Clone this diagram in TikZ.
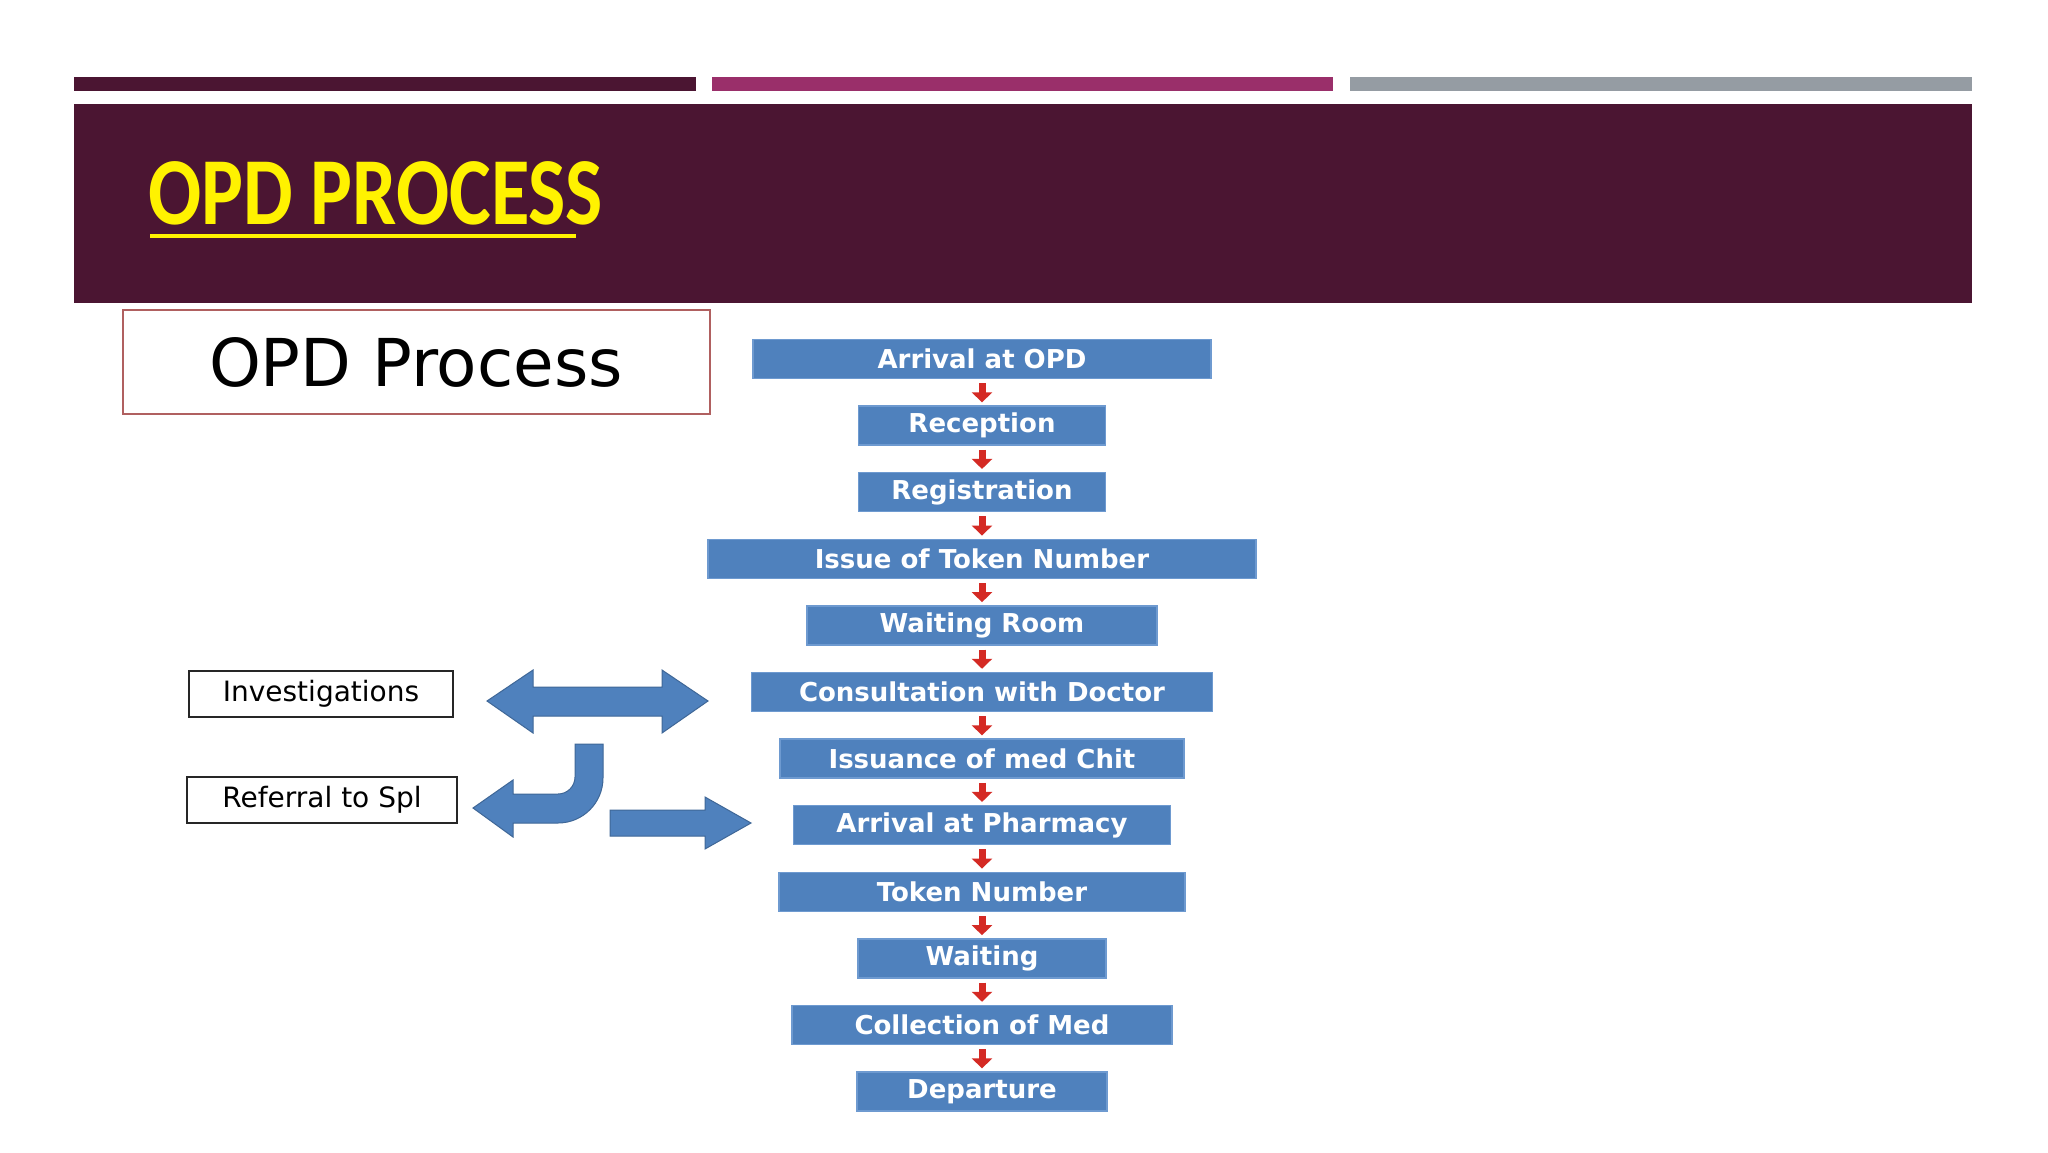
\documentclass[tikz,border=0pt]{standalone}
\usepackage{fontspec}
\setmainfont{DejaVu Sans}
\newfontfamily\titlefont{Carlito}
\usetikzlibrary{arrows.meta}
\definecolor{plum}{HTML}{4B1532}
\definecolor{magbar}{HTML}{9A2F6A}
\definecolor{greybar}{HTML}{959CA3}
\definecolor{flowblue}{HTML}{4F81BD}
\definecolor{flowedge}{HTML}{6E9AD0}
\definecolor{arrred}{HTML}{D42A24}
\definecolor{boxred}{HTML}{B06060}
\begin{document}
\begin{tikzpicture}[x=1pt,y=-1pt,
  flow/.style={fill=flowblue,draw=flowedge,line width=1.5pt,text=white,inner sep=0pt,minimum height=39pt,font=\fontsize{26}{28}\selectfont\bfseries},
  sidebox/.style={draw=black!85,line width=2.5pt,fill=white,inner sep=0pt,minimum height=46pt,font=\fontsize{28}{30}\selectfont},
  redarr/.style={draw=arrred,line width=7pt,-{Triangle[width=20pt,length=10pt]},shorten <=4pt,shorten >=3pt},
  bigarr/.style={fill=flowblue,draw=flowblue!80!black,line width=1pt}]
\useasboundingbox (0,0) rectangle (2048,1152);
\fill[white] (0,0) rectangle (2048,1152);
% top bars
\fill[plum] (74,77) rectangle (696,91);
\fill[magbar] (712,77) rectangle (1333,91);
\fill[greybar] (1350,77) rectangle (1972,91);
\fill[plum] (74,104) rectangle (1972,303);
\node[anchor=base west,inner sep=0pt,text=yellow,font=\titlefont\bfseries\fontsize{96}{100}\selectfont] (title) at (148,224) {\scalebox{0.82}[1]{OPD PROCESS}};
\draw[yellow,line width=4pt] (150,236) -- (576,236);
% OPD Process box
\node[draw=boxred,line width=2pt,minimum width=587pt,minimum height=104pt,inner sep=0pt,font=\fontsize{66}{70}\selectfont] (opd) at (416,362) {OPD Process};
% flow
\node[flow,minimum width=458pt] (n1) at (982,359) {Arrival at OPD};
\node[flow,minimum width=247pt] (n2) at (982,425.6) {Reception};
\node[flow,minimum width=247pt] (n3) at (982,492.2) {Registration};
\node[flow,minimum width=548pt] (n4) at (982,558.8) {Issue of Token Number};
\node[flow,minimum width=350pt] (n5) at (982,625.4) {Waiting Room};
\node[flow,minimum width=461pt] (n6) at (982,692) {Consultation with Doctor};
\node[flow,minimum width=404pt] (n7) at (982,758.6) {Issuance of med Chit};
\node[flow,minimum width=377pt] (n8) at (982,825.2) {Arrival at Pharmacy};
\node[flow,minimum width=406pt] (n9) at (982,891.8) {Token Number};
\node[flow,minimum width=248pt] (n10) at (982,958.4) {Waiting};
\node[flow,minimum width=380pt] (n11) at (982,1025) {Collection of Med};
\node[flow,minimum width=250pt] (n12) at (982,1091.6) {Departure};
\foreach \a/\b in {n1/n2,n2/n3,n3/n4,n4/n5,n5/n6,n6/n7,n7/n8,n8/n9,n9/n10,n10/n11,n11/n12}
  \draw[redarr] (\a.south) -- (\b.north);
% side boxes
\node[sidebox,minimum width=264pt] (inv) at (321,694) {Investigations};
\node[sidebox,minimum width=270pt] (ref) at (322,800) {Referral to Spl};
% double arrow
\filldraw[bigarr] (487,701) -- (533,670) -- (533,687) -- (662,687) -- (662,670) -- (708,701) -- (662,733) -- (662,716) -- (533,716) -- (533,733) -- cycle;
% bent arrow
\filldraw[bigarr] (575,744) -- (603,744) -- (603,778) arc[start angle=0,end angle=90,radius=45] -- (513,823) -- (513,837) -- (473,808) -- (513,780) -- (513,794) -- (558,794) arc[start angle=90,end angle=0,radius=17] -- cycle;
% right arrow
\filldraw[bigarr] (610,810) -- (705,810) -- (705,797) -- (751,823) -- (705,849) -- (705,836) -- (610,836) -- cycle;
\end{tikzpicture}
\end{document}
